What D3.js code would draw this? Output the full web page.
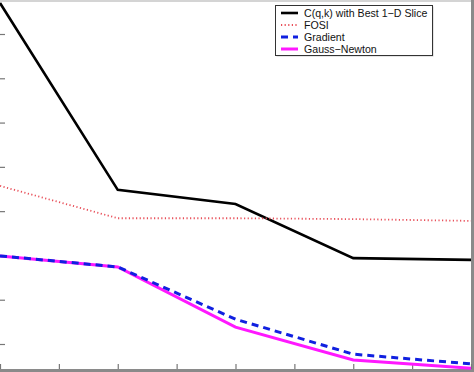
<!DOCTYPE html>
<html><head><meta charset="utf-8">
<script src="https://cdn.jsdelivr.net/npm/d3@7"></script>
<style>html,body{margin:0;padding:0;background:#fff;}svg{display:block;}</style>
</head><body>
<script>
const xValues = [0, 2, 4, 6, 8];
const seriesNames = ["C(q,k) with Best 1\u2212D Slice", "FOSI", "Gradient", "Gauss\u2212Newton"];
const bestSlice = [8.70, 4.48, 4.16, 2.94, 2.90];
const fosi = [4.57, 3.84, 3.84, 3.82, 3.78];
const gradient = [2.99, 2.74, 1.56, 0.77, 0.55];
const gaussNewton = [2.99, 2.74, 1.38, 0.64, 0.45];
const xTicks = [0, 1, 2, 3, 4, 5, 6, 7, 8];
const yTicks = [1, 2, 3, 4, 5, 6, 7, 8];

const W = 474, H = 372;
const svg = d3.select("body").append("svg").attr("width", W).attr("height", H);
const x = d3.scaleLinear().domain([0, 8]).range([0, 471]);
const y = d3.scaleLinear().domain([1, 8]).range([344, 34]);

// frame
svg.append("rect").attr("x", 0).attr("y", 0).attr("width", W).attr("height", 2).attr("fill", "#d4d4d4");
svg.append("rect").attr("x", 471).attr("y", 0).attr("width", 3).attr("height", H).attr("fill", "#8a8a8a");
svg.append("rect").attr("x", 0).attr("y", 369).attr("width", W).attr("height", 3).attr("fill", "#8a8a8a");

const gx = svg.append("g").attr("transform", "translate(0,369)")
  .call(d3.axisBottom(x).tickValues(xTicks).tickSize(-5).tickFormat(""));
const gy = svg.append("g").attr("transform", "translate(0,0)")
  .call(d3.axisRight(y).tickValues(yTicks).tickSize(5).tickFormat(""));
[gx, gy].forEach(g => { g.select(".domain").remove(); g.selectAll(".tick line").attr("stroke", "#777").attr("stroke-width", 1.2); });

const line = d3.line().x((d, i) => x(xValues[i])).y(d => y(d));
const styles = [
  {data: bestSlice, color: "#000", w: 2.6, dash: null},
  {data: fosi, color: "#e8505a", w: 1.8, dash: "1.2,2.4"},
  {data: gradient, color: "#1020e0", w: 3, dash: "7,5"},
  {data: gaussNewton, color: "#ff18ff", w: 3, dash: null}
];
const plot = svg.append("g");
[styles[0], styles[1], styles[3], styles[2]].forEach(s => {
  plot.append("path").attr("d", line(s.data)).attr("fill", "none")
    .attr("stroke", s.color).attr("stroke-width", s.w)
    .attr("stroke-dasharray", s.dash);
});

// legend
const lg = svg.append("g");
lg.append("rect").attr("x", 276.5).attr("y", 6.5).attr("width", 157).attr("height", 50).attr("fill", "#999").attr("opacity", 0.5);
lg.append("rect").attr("x", 275.5).attr("y", 5.5).attr("width", 157).attr("height", 50).attr("fill", "#fff").attr("stroke", "#333").attr("stroke-width", 1);
seriesNames.forEach((n, i) => {
  const yy = 13 + i * 12;
  const s = styles[i];
  lg.append("line").attr("x1", 281).attr("x2", 298).attr("y1", yy).attr("y2", yy)
    .attr("stroke", s.color).attr("stroke-width", s.w).attr("stroke-dasharray", s.dash);
  lg.append("text").attr("x", 304).attr("y", yy + 4).text(n)
    .attr("font-family", "Liberation Sans, Arial, sans-serif").attr("font-size", 10.6).attr("fill", "#111");
});
</script>
</body></html>
